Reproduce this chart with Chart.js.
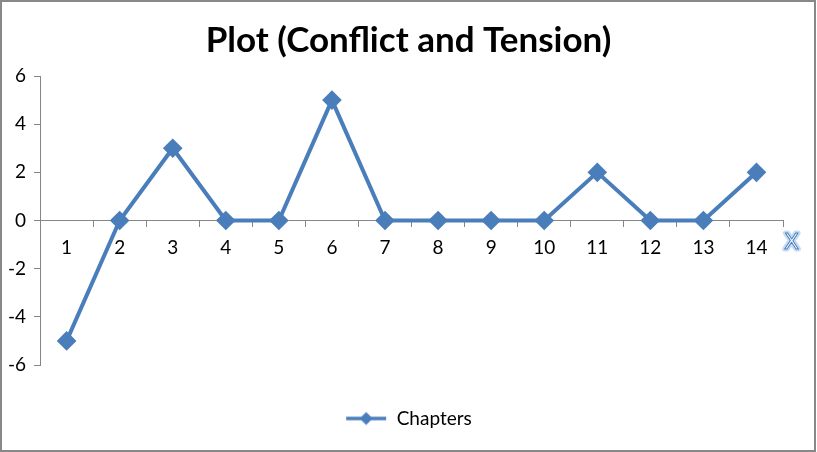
<!DOCTYPE html>
<html>
<head>
<meta charset="utf-8">
<script src="https://cdn.jsdelivr.net/npm/chart.js@4/dist/chart.umd.min.js"></script>
<style>
  html, body { margin: 0; padding: 0; background: #fff; }
  #wrap { width: 817px; height: 452px; }
</style>
</head>
<body>
<div id="wrap"><canvas id="plot-chart"></canvas></div>
<script>
var chapters = ['1', '2', '3', '4', '5', '6', '7', '8', '9', '10', '11', '12', '13', '14'];
var tension = [-5, 0, 3, 0, 0, 5, 0, 0, 0, 0, 2, 0, 0, 2];
var yTicks = [-6, -4, -2, 0, 2, 4, 6];

var LINE_BLUE = '#4a7ebb';
var AXIS_GRAY = '#868686';

// legend swatch: short line with a diamond in the middle, like Excel
function legendSwatch() {
    var c = document.createElement('canvas');
    c.width = 42;
    c.height = 16;
    var g = c.getContext('2d');
    g.strokeStyle = LINE_BLUE;
    g.fillStyle = LINE_BLUE;
    g.lineWidth = 3.5;
    g.beginPath();
    g.moveTo(1, 8);
    g.lineTo(41, 8);
    g.stroke();
    g.beginPath();
    g.moveTo(21, 1.5);
    g.lineTo(27.5, 8);
    g.lineTo(21, 14.5);
    g.lineTo(14.5, 8);
    g.closePath();
    g.fill();
    return c;
}
var swatch = legendSwatch();

// frame round the whole chart plus the odd "X" axis title
var extras = {
    id: 'extras',
    afterDraw: function (chart) {
        var ctx = chart.ctx;
        var x = chart.scales.x;
        var y = chart.scales.y;
        ctx.save();
        ctx.strokeStyle = '#888888';
        ctx.lineWidth = 2;
        ctx.strokeRect(1, 1, chart.width - 3, chart.height - 2);

        ctx.font = '22px "DejaVu Sans"';
        ctx.textAlign = 'left';
        ctx.textBaseline = 'middle';
        ctx.lineJoin = 'round';
        ctx.strokeStyle = '#c6dcf4';
        ctx.lineWidth = 5;
        var tx = x.right + 1, ty = y.getPixelForValue(0) + 23;
        ctx.strokeText('X', tx, ty);
        ctx.fillStyle = '#ffffff';
        ctx.fillText('X', tx, ty);
        ctx.strokeStyle = '#4a7ebb';
        ctx.lineWidth = 1;
        ctx.strokeText('X', tx, ty);
        ctx.restore();
    }
};

var context = document.getElementById('plot-chart').getContext('2d');
var chart = new Chart(context, {
    type: 'line',
    data: {
        labels: chapters,
        datasets: [{
            label: 'Chapters',
            data: tension,
            borderColor: LINE_BLUE,
            backgroundColor: LINE_BLUE,
            borderWidth: 4,
            pointStyle: 'rectRot',
            pointRadius: 7,
            pointHoverRadius: 7,
            tension: 0,
            fill: false
        }]
    },
    options: {
        responsive: true,
        maintainAspectRatio: false,
        animation: false,
        layout: { padding: { left: 0, right: 0, top: 6, bottom: 14 } },
        plugins: {
            title: {
                display: true,
                text: 'Plot (Conflict and Tension)',
                color: '#000',
                font: { family: 'Lato', size: 35, weight: 'bold' },
                padding: { top: 14, bottom: 14 }
            },
            legend: {
                position: 'bottom',
                title: {
                    display: true,
                    text: ' ',
                    font: { size: 10 },
                    padding: 13
                },
                labels: {
                    color: '#000',
                    font: { family: 'Lato', size: 19 },
                    usePointStyle: true,
                    pointStyleWidth: 42,
                    generateLabels: function (c) {
                        return [{
                            text: 'Chapters',
                            fillStyle: LINE_BLUE,
                            strokeStyle: LINE_BLUE,
                            fontColor: '#000',
                            pointStyle: swatch,
                            lineWidth: 0,
                            datasetIndex: 0
                        }];
                    },
                    padding: 6
                }
            },
            tooltip: { enabled: false }
        },
        scales: {
            x: {
                type: 'category',
                offset: true,
                position: { y: 0 },
                grid: {
                    offset: true,
                    drawOnChartArea: false,
                    drawTicks: true,
                    tickLength: 6,
                    color: AXIS_GRAY
                },
                border: { color: AXIS_GRAY, width: 1 },
                ticks: {
                    color: '#000',
                    font: { family: 'Lato', size: 19 },
                    padding: 10,
                    maxRotation: 0,
                    autoSkip: false
                }
            },
            y: {
                min: -6,
                max: 6,
                afterBuildTicks: function (axis) {
                    axis.ticks = yTicks.map(function (v) { return { value: v }; });
                },
                grid: {
                    drawOnChartArea: false,
                    drawTicks: true,
                    tickLength: 6,
                    color: AXIS_GRAY
                },
                border: { color: AXIS_GRAY, width: 1 },
                ticks: {
                    color: '#000',
                    font: { family: 'Lato', size: 19 },
                    padding: 8
                }
            },
            // empty axis on the right that only keeps room for the "X" title
            pad: {
                type: 'linear',
                position: 'right',
                display: true,
                grid: { display: false },
                border: { display: false },
                ticks: { display: false },
                afterFit: function (axis) {
                    axis.width = 34;
                }
            }
        }
    },
    plugins: [extras]
});
</script>
</body>
</html>
